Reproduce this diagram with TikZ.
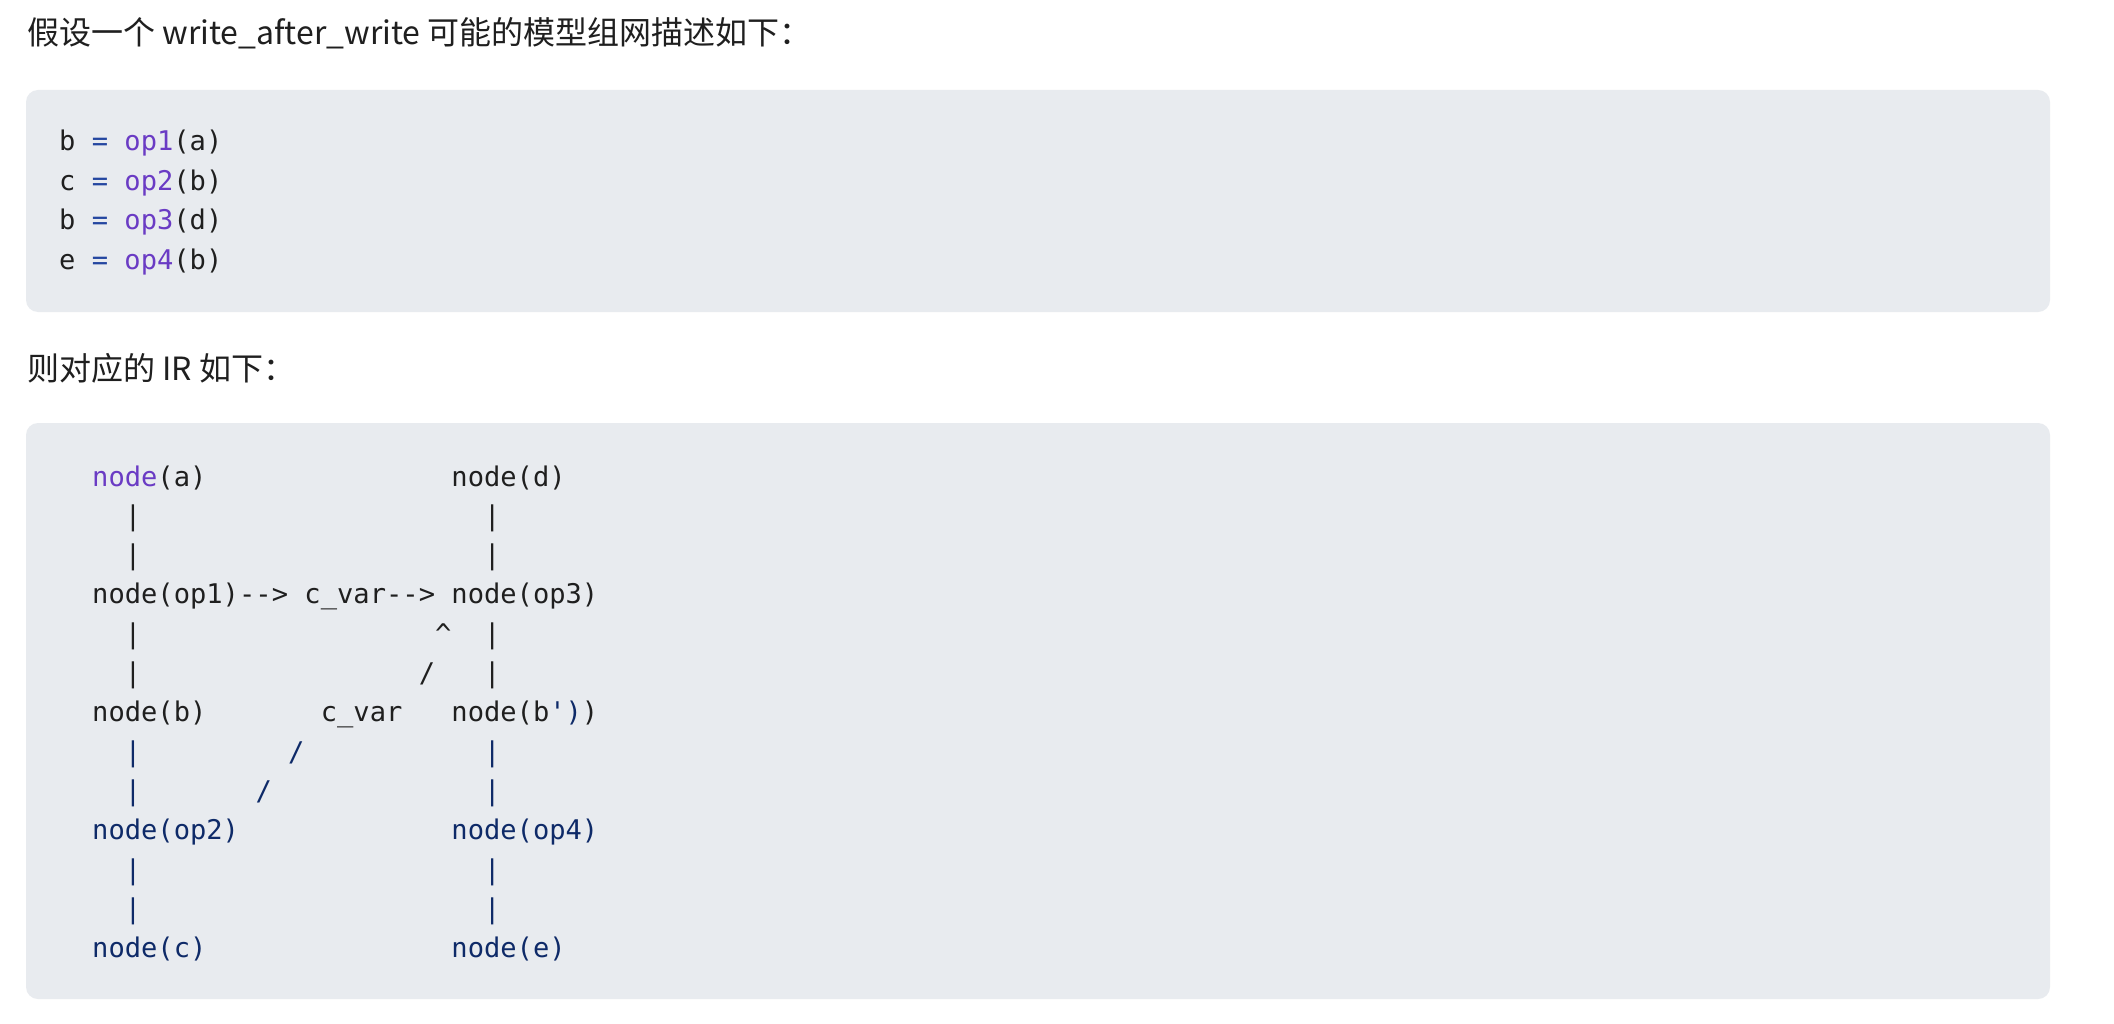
\documentclass[tikz,border=0pt]{standalone}
\usepackage{fontspec}
\setmainfont{Noto Sans CJK SC}
\setmonofont{DejaVu Sans Mono}

\definecolor{codebg}{HTML}{E8EBEF}
\definecolor{codeink}{HTML}{1F1F1F}
\definecolor{kwpurple}{HTML}{6A3BC4}
\definecolor{opblue}{HTML}{2446A0}
\definecolor{strnavy}{HTML}{0E2A68}

\tikzset{
  heading/.style = {anchor=base west, inner sep=0pt, text=codeink, font=\fontsize{32}{38}\selectfont},
  code/.style = {anchor=base west, inner sep=0pt, text=codeink, font=\ttfamily\fontsize{27.1}{32}\selectfont},
  codebox/.style = {fill=codebg, rounded corners=12pt}
}

\begin{document}
\begin{tikzpicture}[x=1pt, y=-1pt]
	\fill[white] (0,0) rectangle (2114,1024);
	\useasboundingbox (0,0) rectangle (2114,1024);

	\node[heading] (intro) at (27,45) {假设一个 write\_after\_write 可能的模型组网描述如下：};
	\fill[codebox] (26,90) rectangle (2050,312);

	% the four statements
	\begin{scope}[shift={(59,151)}, x=16.33pt, y=-39.5pt]
		\node[code] (stmt1) at (0,0) {b \textcolor{opblue}{=} \textcolor{kwpurple}{op1}(a)};
		\node[code] (stmt2) at (0,1) {c \textcolor{opblue}{=} \textcolor{kwpurple}{op2}(b)};
		\node[code] (stmt3) at (0,2) {b \textcolor{opblue}{=} \textcolor{kwpurple}{op3}(d)};
		\node[code] (stmt4) at (0,3) {e \textcolor{opblue}{=} \textcolor{kwpurple}{op4}(b)};
	\end{scope}

	\node[heading] (irhead) at (27,380) {则对应的 IR 如下：};
	\fill[codebox] (26,423) rectangle (2050,999);

	% the IR, one column per character
	\begin{scope}[shift={(92,486)}, x=16.33pt, y=-39.33pt]
		\node[code] (n_a) at (0,0) {\textcolor{kwpurple}{node}(a)};
		\node[code] (n_d) at (22,0) {node(d)};

		\node[code] (n_op1) at (0,3) {node(op1)};
		\node[code] (arr1) at (9,3) {-->};
		\node[code] (cvar1) at (13,3) {c\_var};
		\node[code] (arr2) at (18,3) {-->};
		\node[code] (n_op3) at (22,3) {node(op3)};

		\node[code] (hat) at (21,4) {\textasciicircum};
		\node[code] (sl1) at (20,5) {/};

		\node[code] (n_b) at (0,6) {node(b)};
		\node[code] (cvar2) at (14,6) {c\_var};
		\node[code] (n_bp) at (22,6) {node(b\textcolor{strnavy}{')})};

		\node[code, text=strnavy] (sl2) at (12,7) {/};
		\node[code, text=strnavy] (sl3) at (10,8) {/};

		\node[code, text=strnavy] (n_op2) at (0,9) {node(op2)};
		\node[code, text=strnavy] (n_op4) at (22,9) {node(op4)};
		\node[code, text=strnavy] (n_c) at (0,12) {node(c)};
		\node[code, text=strnavy] (n_e) at (22,12) {node(e)};

		\foreach \r in {1,2,4,5}{
			\node[code] (pl\r) at (2,\r) {|};
			\node[code] (pr\r) at (24,\r) {|};
		}
		\foreach \r in {7,8,10,11}{
			\node[code, text=strnavy] (pl\r) at (2,\r) {|};
			\node[code, text=strnavy] (pr\r) at (24,\r) {|};
		}
	\end{scope}
\end{tikzpicture}
\end{document}
